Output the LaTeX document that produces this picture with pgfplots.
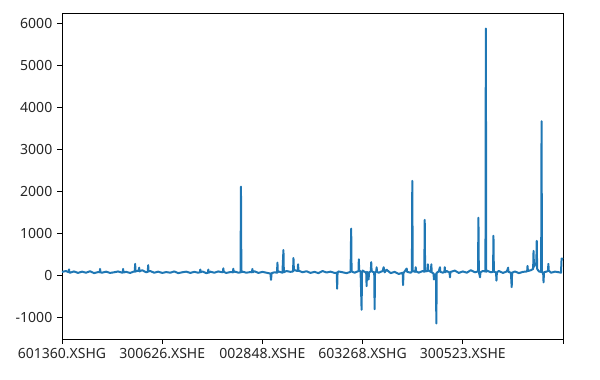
\documentclass[border=0pt]{standalone}
\usepackage{pgfplots}
\pgfplotsset{compat=1.18}
\usepackage{fontspec}
\setmainfont{Noto Sans}
\definecolor{mplblue}{HTML}{1F77B4}
\begin{document}
\fontsize{10.5pt}{12pt}\selectfont
\begin{tikzpicture}
\begin{axis}[
  scale only axis,
  width=375.75pt, height=244.5pt,
  xmin=0, xmax=2500,
  ymin=-1520, ymax=6250,
  xtick={0,500,1000,1500,2000,2500},
  xticklabels={601360.XSHG,300626.XSHE,002848.XSHE,603268.XSHG,300523.XSHE,{}},
  ytick={-1000,0,1000,2000,3000,4000,5000,6000},
  yticklabels={-1000,0,1000,2000,3000,4000,5000,6000},
  tick align=outside,
  tick pos=left,
  major tick length=3.6pt,
  every tick/.style={black, line width=0.6pt},
  axis line style={black, line width=0.6pt},
  tick label style={font=\fontsize{10.5pt}{12pt}\selectfont, text=black!85},
  /pgf/number format/assume math mode=true,
  clip=false,
]
\addplot[mplblue, line width=1.5pt, line join=round] coordinates {
(0,80)(20,100)(33,70)(35,140)(37,70)(40,60)(60,90)(80,55)(100,85)(120,60)(140,95)(160,50)(180,75)
(188,70)(190,150)(192,70)(200,60)(220,85)(240,55)(260,70)(280,90)(300,60)(303,65)(305,150)(307,65)
(320,80)(340,55)(360,90)(363,80)(365,270)(367,90)(380,110)(383,100)(385,180)(387,90)(400,120)
(420,70)(428,80)(430,240)(432,90)(440,100)(460,60)(480,85)(500,55)(520,75)(540,60)(560,90)(580,50)
(600,70)(620,85)(640,55)(660,80)(680,60)(688,70)(690,135)(692,70)(700,90)(720,50)(728,60)(730,135)(732,60)
(740,85)(760,60)(780,90)(800,70)(803,80)(805,165)(807,80)(820,55)(840,75)(853,70)(855,155)(857,70)
(860,90)(880,60)(891,70)(893,2110)(895,70)(900,85)(920,60)(940,75)(948,70)(950,150)(952,70)
(960,95)(980,55)(1000,80)(1020,60)(1040,40)(1043,-110)(1046,50)(1060,70)(1073,60)(1075,300)(1077,70)
(1080,90)(1100,60)(1105,600)(1107,70)(1120,100)(1140,80)(1153,90)(1155,410)(1157,150)(1160,120)
(1176,100)(1178,260)(1180,110)(1200,70)(1220,95)(1240,55)(1260,80)(1280,50)(1300,100)(1320,65)
(1340,85)(1360,55)(1371,60)(1373,-320)(1375,60)(1380,90)(1400,70)(1420,50)(1440,80)(1443,1110)(1445,90)
(1460,60)(1480,100)(1481,380)(1483,120)(1490,80)(1495,-825)(1497,60)(1500,110)(1518,60)(1520,-260)(1522,80)
(1528,40)(1530,-100)(1532,70)(1541,90)(1543,310)(1545,100)(1558,60)(1560,-810)(1562,70)(1568,90)(1570,190)(1572,80)
(1580,60)(1600,100)(1605,190)(1610,70)(1620,130)(1640,50)(1660,80)(1680,30)(1700,60)(1702,-235)(1704,50)
(1720,160)(1722,80)(1740,60)(1746,90)(1748,2250)(1750,100)(1763,80)(1765,190)(1767,90)(1780,60)(1800,100)
(1808,80)(1810,1320)(1812,90)(1824,100)(1826,260)(1828,110)(1841,80)(1843,260)(1845,70)(1854,40)(1856,-100)
(1866,30)(1868,-1150)(1870,60)(1880,90)(1886,190)(1888,80)(1900,60)(1908,80)(1910,190)(1912,70)(1920,100)
(1934,60)(1936,-50)(1938,70)(1940,80)(1960,110)(1980,55)(2000,90)(2020,60)(2040,120)(2060,70)
(2076,90)(2078,1370)(2080,80)(2086,-50)(2088,70)(2100,100)(2113,90)(2115,5880)(2117,80)(2120,110)(2140,70)
(2151,80)(2153,940)(2155,90)(2166,60)(2168,-130)(2170,70)(2180,100)(2200,55)(2220,90)(2226,180)(2228,80)
(2240,60)(2244,-285)(2246,60)(2260,90)(2280,50)(2300,80)(2321,90)(2323,220)(2325,100)(2340,120)
(2351,150)(2353,580)(2355,200)(2367,300)(2369,820)(2371,150)(2380,90)(2391,80)(2393,3670)(2395,70)
(2401,60)(2403,-170)(2405,70)(2420,90)(2425,100)(2427,270)(2429,110)(2440,60)(2460,85)(2480,70)(2490,60)
(2493,400)(2500,380)
};
\path (rel axis cs:0,0) ++(-46.5pt,-30.75pt) coordinate (bl);
\path (rel axis cs:1,1) ++(27.75pt,9.75pt) coordinate (tr);
\path (bl) rectangle (tr);
\end{axis}
\end{tikzpicture}
\end{document}
